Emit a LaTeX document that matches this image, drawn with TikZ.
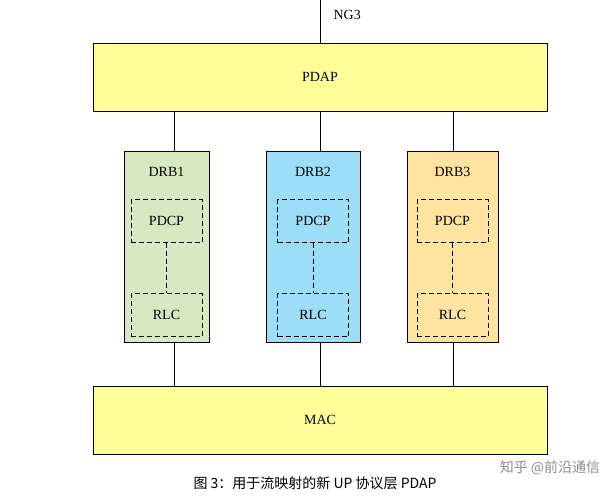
\documentclass[tikz,border=0pt]{standalone}
\usepackage{fontspec}
\setmainfont{Liberation Serif}
\newfontfamily\cjk{Noto Sans CJK SC}
\usetikzlibrary{positioning}
\definecolor{bandyellow}{HTML}{FFFF99}
\definecolor{drbgreen}{HTML}{D7E9C3}
\definecolor{drbblue}{HTML}{9CDDF7}
\definecolor{drbyellow}{HTML}{FFE39E}
\tikzset{
  every node/.style={font=\fontsize{14}{16}\selectfont},
  band/.style={draw, fill=bandyellow, minimum width=454pt, minimum height=68pt},
  drb/.style={draw, minimum height=191pt, anchor=north},
  longdash/.style={dash pattern=on 5pt off 3pt},
  sub/.style={draw, longdash, minimum width=71pt, minimum height=43pt}
}
\begin{document}
\begin{tikzpicture}[x=1pt,y=-1pt]
        \useasboundingbox (0,0) rectangle (600,499);
        \node[band] (pdap) at (320,77) {PDAP};
        \node[band] (mac) at (320,420) {MAC};
        \coordinate (ng) at (320,0);
        \draw (ng) -- (pdap.north);
        \node[right] at (330,15) {NG3};

        \node[drb, fill=drbgreen, minimum width=85pt] (drb1) at (166.5,151) {};
        \node[drb, fill=drbblue, minimum width=94pt] (drb2) at (313,151) {};
        \node[drb, fill=drbyellow, minimum width=91pt] (drb3) at (452.5,151) {};

        \foreach \i/\x in {1/166.5,2/313,3/452.5} {
            \node at (\x,172) {DRB\i};
            \node[sub] (pdcp\i) at (\x,221) {PDCP};
            \node[sub] (rlc\i) at (\x,315) {RLC};
            \draw[longdash] (pdcp\i) -- (rlc\i);
        }
        \foreach \i/\x in {1/174,2/320,3/453} {
            \draw (pdap.south -| \x,0) -- (drb\i.north -| \x,0);
            \draw (drb\i.south -| \x,0) -- (mac.north -| \x,0);
        }

        \node at (315,483) {\cjk 图 3：用于流映射的新 UP 协议层 PDAP};
        \node[text=black!45] at (550,468) {\cjk 知乎 @前沿通信};
\end{tikzpicture}
\end{document}
